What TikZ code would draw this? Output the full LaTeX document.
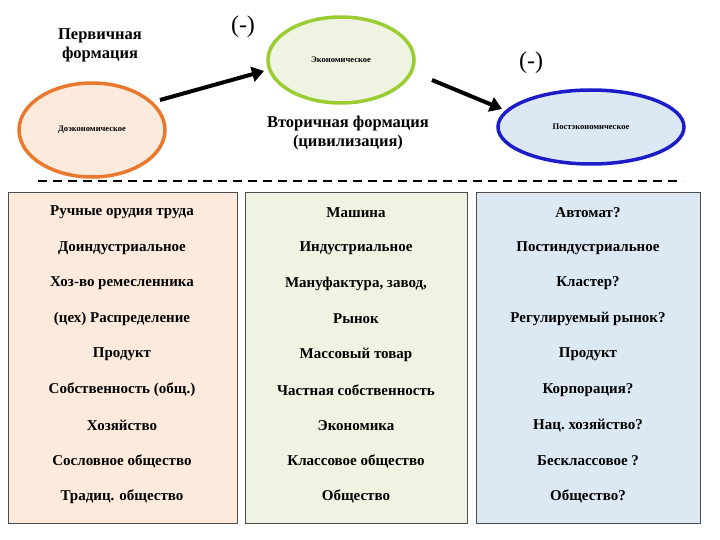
\documentclass[tikz,border=0pt]{standalone}
\usepackage{fontspec}
\setmainfont{Liberation Serif}
\usetikzlibrary{shapes.geometric, arrows.meta}
\definecolor{orangeedge}{HTML}{E8792E}
\definecolor{orangefill}{HTML}{FCEBDD}
\definecolor{greenedge}{HTML}{9ACD32}
\definecolor{greenfill}{HTML}{EEF3E2}
\definecolor{blueedge}{HTML}{1C1CC8}
\definecolor{bluefill}{HTML}{DDE8F5}
\tikzstyle{era} = [ellipse, line width=3.5pt, font=\bfseries\fontsize{8.5}{10}\selectfont]
\tikzstyle{column} = [rectangle, draw=black!70, thick]
\tikzstyle{item} = [font=\bfseries\fontsize{15}{17}\selectfont]
\tikzstyle{heading} = [align=center, font=\bfseries\fontsize{16.5}{19}\selectfont]
\tikzstyle{arrow} = [line width=4pt, -{Triangle[length=12pt,width=15pt]}]

\begin{document}
\begin{tikzpicture}[x=1pt, y=-1pt]
      \useasboundingbox (0,0) rectangle (720,540);

      \node (preeco) [era, draw=orangeedge, fill=orangefill, minimum width=146pt, minimum height=94pt] at (92,130) {Доэкономическое};
      \node (eco) [era, draw=greenedge, fill=greenfill, minimum width=146pt, minimum height=86pt] at (341,60) {Экономическое};
      \node (posteco) [era, draw=blueedge, fill=bluefill, minimum width=186pt, minimum height=74pt] at (591,127) {Постэкономическое};

      \node (primary) [heading] at (100,45) {Первичная\\формация};
      \node (minusa) [font=\fontsize{24}{26}\selectfont] at (243,27) {(-)};
      \node (minusb) [font=\fontsize{24}{26}\selectfont] at (531,63) {(-)};
      \node (secondary) [heading] at (348,133) {Вторичная формация\\(цивилизация)};

      \coordinate (p1) at (160,100);
      \coordinate (p2) at (264,71);
      \coordinate (p3) at (432,80);
      \coordinate (p4) at (502,109);
      \draw [arrow] (p1) -- (p2);
      \draw [arrow] (p3) -- (p4);

      \coordinate (d1) at (38,181);
      \coordinate (d2) at (683,181);
      \draw [line width=2.5pt, dash pattern=on 9pt off 6pt] (d1) -- (d2);

      \node (colpre) [column, fill=orangefill, minimum width=229pt, minimum height=331pt] at (122.5,357.5) {};
      \node (coleco) [column, fill=greenfill, minimum width=222pt, minimum height=331pt] at (356,357.5) {};
      \node (colpost) [column, fill=bluefill, minimum width=224pt, minimum height=331pt] at (588,357.5) {};

      \foreach \t [count=\i] in {Ручные орудия труда, Доиндустриальное, Хоз-во ремесленника, (цех) Распределение, Продукт, {Собственность (общ.)}, Хозяйство, Сословное общество, Традиц. общество}
        \node (pre\i) [item] at (122,177+35.5*\i) {\t};
      \foreach \t [count=\i] in {Машина, Индустриальное, {Мануфактура, завод,}, Рынок, Массовый товар, Частная собственность, Экономика, Классовое общество, Общество}
        \node (eco\i) [item] at (356,177+35.5*\i) {\t};
      \foreach \t [count=\i] in {Автомат?, Постиндустриальное, Кластер?, Регулируемый рынок?, Продукт, Корпорация?, Нац.\ хозяйство?, Бесклассовое ?, Общество?}
        \node (post\i) [item] at (588,177+35.5*\i) {\t};
    \end{tikzpicture}
\end{document}
